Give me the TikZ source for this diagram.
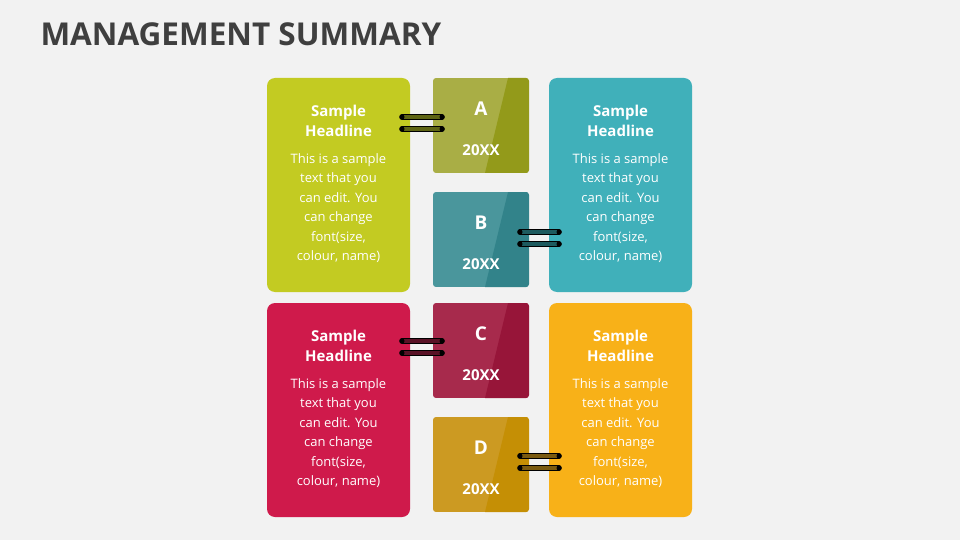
\documentclass[tikz,border=0pt]{standalone}
\usepackage{fontspec}
\setmainfont{Open Sans}
\definecolor{bg}{HTML}{F2F2F2}
\definecolor{cA}{HTML}{C3CB22}\definecolor{cB}{HTML}{40B0BA}
\definecolor{cC}{HTML}{CF1A4B}\definecolor{cD}{HTML}{F8B118}
\definecolor{lA}{HTML}{A9AE45}\definecolor{dA}{HTML}{939A1A}
\definecolor{lB}{HTML}{4A969C}\definecolor{dB}{HTML}{32838A}
\definecolor{lC}{HTML}{A72A4C}\definecolor{dC}{HTML}{971539}
\definecolor{lD}{HTML}{CC9A22}\definecolor{dD}{HTML}{C58F05}
\definecolor{kA}{HTML}{5E6414}\definecolor{kB}{HTML}{1D5A5E}
\definecolor{kC}{HTML}{5A1226}\definecolor{kD}{HTML}{7A5A10}
\definecolor{ttl}{HTML}{3F3F3F}
\begin{document}
\begin{tikzpicture}[x=1pt,y=-1pt,
  bigbox/.style={rounded corners=8pt},
  headtxt/.style={text=white,font=\bfseries\fontsize{15}{20.5}\selectfont,align=center},
  bodytxt/.style={text=white,font=\fontsize{13}{19.5}\selectfont,align=center},
  sqtxt/.style={text=white,font=\bfseries\fontsize{19}{22}\selectfont},
  yrtxt/.style={text=white,font=\bfseries\fontsize{15}{18}\selectfont},
  bar/.style={line width=4pt,line cap=round},
  dot/.style={fill=black,circle,inner sep=0pt,minimum size=5pt}]
\fill[bg] (0,0) rectangle (960,540);
\useasboundingbox (0,0) rectangle (960,540);
\node[anchor=west,text=ttl,font=\bfseries\fontsize{31.5}{34}\selectfont] (title) at (37,34) {MANAGEMENT SUMMARY};
% big boxes
\newcommand\bigpanel[4]{%
  \fill[#4,bigbox] (#1,#2) rectangle ++(143,214);
  \node[headtxt] (#3h) at (#1+71.5,#2+43) {Sample\\Headline};
  \node[bodytxt] (#3b) at (#1+71.5,#2+130) {This is a sample\\text that you\\can edit. You\\can change\\font(size,\\colour, name)};}
\bigpanel{267}{78}{p1}{cA}
\bigpanel{549}{78}{p2}{cB}
\bigpanel{267}{303}{p3}{cC}
\bigpanel{549}{303}{p4}{cD}
% squares
\newcommand\sq[4]{%
  \begin{scope}
  \clip[rounded corners=3pt] (433,#1) rectangle ++(96,95);
  \fill[#3] (433,#1) rectangle ++(96,95);
  \fill[#4] (508,#1) -- (529,#1) -- (529,#1+95) -- (485,#1+95) -- cycle;
  \end{scope}
  \node[sqtxt] (s#2) at (481,#1+31) {#2};
  \node[yrtxt] (y#2) at (481,#1+72) {20XX};}
\sq{78}{A}{lA}{dA}
\sq{192}{B}{lB}{dB}
\sq{303}{C}{lC}{dC}
\sq{417}{D}{lD}{dD}
% connectors
\newcommand\link[4]{%
  \foreach \dy [count=\i] in {0,12}{
    \coordinate (#4a\i) at (#1,#3+\dy); \coordinate (#4b\i) at (#2,#3+\dy);
    \draw[bar,black,line width=5.5pt] (#4a\i) -- (#4b\i);
    \draw[bar,k#4] (#4a\i) -- (#4b\i);
    \node[dot] at (#4a\i) {}; \node[dot] at (#4b\i) {};}}
\link{402}{442}{117}{A}
\link{520}{559}{232}{B}
\link{402}{442}{341}{C}
\link{520}{559}{456}{D}
\end{tikzpicture}
\end{document}
